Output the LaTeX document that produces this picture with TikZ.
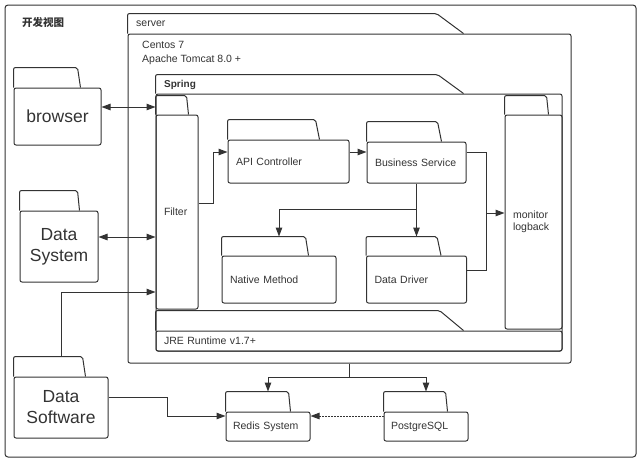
\documentclass[tikz,border=0pt]{standalone}
\usepackage{fontspec}
\setmainfont{Liberation Sans}
\newfontfamily\cjkfont{Noto Sans CJK SC}
\usetikzlibrary{arrows.meta}
\definecolor{ink}{HTML}{333333}
\tikzset{
  pkg/.style={draw=ink, line width=1pt, rounded corners=2pt, inner sep=0pt, text=ink,
    font=\fontsize{10.5}{12.5}\selectfont},
  big/.style={pkg, align=center, font=\fontsize{17.5}{21}\selectfont},
  small/.style={pkg, align=left, inner xsep=8pt},
  tag/.style={anchor=west, inner sep=0pt, text=ink, font=\fontsize{10.5}{14}\selectfont},
  line/.style={draw=ink, line width=1pt},
  wire/.style={line, -{Triangle[length=9pt,width=6.5pt]}},
  dbl/.style={line, {Triangle[length=9pt,width=6.5pt]}-{Triangle[length=9pt,width=6.5pt]}}
}
\newcommand{\pkgtab}[4]{\draw[line, rounded corners=2pt] (#1.north west) -- ++(0,-#3) -- ++(#2,0) -- ++(#4,#3);}
\begin{document}
\begin{tikzpicture}[x=1pt,y=-1pt]
\useasboundingbox (0,0) rectangle (640,459);
\draw[line, rounded corners=3pt] (5,5) rectangle (636,457);
\node[tag, font=\cjkfont\bfseries\fontsize{10.5}{12}\selectfont] (title) at (22,22) {开发视图};

\node[pkg, minimum width=443, minimum height=329] (server) at (349.5,198.5) {};
\pkgtab{server}{309}{20}{27}
\node[tag] (servername) at (136,24) {server};
\node[tag, align=left] (os) at (142,53) {Centos 7\\Apache Tomcat 8.0 +};

\node[pkg, minimum width=406, minimum height=257] (spring) at (359,222.5) {};
\pkgtab{spring}{282}{19}{26}
\node[tag, font=\bfseries\fontsize{10}{12}\selectfont] (springname) at (164,85) {Spring};

\node[small, text width=390, minimum height=20] (jre) at (359,341) {JRE Runtime v1.7+};
\pkgtab{jre}{284}{20}{24}

\node[small, text width=26, minimum height=194] (filter) at (177,212) {Filter};
\pkgtab{filter}{31}{19}{2}
\node[small, text width=41, inner xsep=8pt, minimum height=214] (monitor) at (533.5,222) {monitor\\logback};
\pkgtab{monitor}{42}{19}{2}

\node[small, text width=105, minimum height=43] (api) at (288.5,161.5) {API Controller};
\pkgtab{api}{88}{20}{4}
\node[small, text width=83, minimum height=41] (service) at (416.5,162.5) {Business Service};
\pkgtab{service}{71}{20}{4}
\node[small, text width=98, minimum height=47] (native) at (279,279.5) {Native Method};
\pkgtab{native}{84}{19}{3}
\node[small, text width=84, minimum height=47] (driver) at (416.5,279.5) {Data Driver};
\pkgtab{driver}{71}{19}{4}

\node[big, minimum width=87, minimum height=57] (browser) at (57.5,116.5) {browser};
\pkgtab{browser}{64}{20}{3}
\node[big, minimum width=78, minimum height=71] (datasys) at (59,246.5) {Data\\System};
\pkgtab{datasys}{58}{20}{2}
\node[big, minimum width=94, minimum height=61] (datasoft) at (61,407.5) {Data\\Software};
\pkgtab{datasoft}{69}{20}{3}
\node[small, inner xsep=7pt, text width=70, minimum height=29] (redis) at (268,426.5) {Redis System};
\pkgtab{redis}{63}{20}{2}
\node[small, inner xsep=7pt, text width=70, minimum height=29] (pgsql) at (426,426.5) {PostgreSQL};
\pkgtab{pgsql}{62}{20}{2}

\coordinate (bend) at (486,213);
\coordinate (split) at (349.5,377);

\draw[dbl] ([yshift=9.5pt]browser.east) -- ([yshift=9.5pt]browser.east -| filter.west);
\draw[dbl] ([yshift=9.5pt]datasys.east) -- ([yshift=9.5pt]datasys.east -| filter.west);
\draw[wire] ([yshift=20pt]datasoft.north) |- ([yshift=-80pt]filter.west);

\draw[wire] ([yshift=9pt]filter.east) -- ++(15,0) |- ([yshift=9.5pt]api.west);
\draw[wire] ([yshift=9.5pt]api.east) -- ([yshift=9.5pt]api.east -| service.west);
\draw[wire] (service.south) -- ([yshift=19pt]driver.north);
\draw[wire] (service.south |- 0,209) -| ([yshift=19pt]native.north);
\draw[line] ([yshift=10.5pt]service.east) -| (bend);
\draw[line] ([yshift=9.5pt]driver.east) -| (bend);
\draw[wire] (bend) -- (bend -| monitor.west);

\draw[line] (server.south) -- (split);
\draw[wire] (split) -| ([yshift=20pt]redis.north);
\draw[wire] (split) -| ([yshift=20pt]pgsql.north);
\draw[wire] ([yshift=10.5pt]datasoft.east) -| (167,416) -- ([yshift=10.5pt]redis.west);
\draw[wire, dash pattern=on 1.5pt off 1.5pt] ([yshift=10.5pt]pgsql.west) -- ([yshift=10.5pt]redis.east);
\end{tikzpicture}
\end{document}
